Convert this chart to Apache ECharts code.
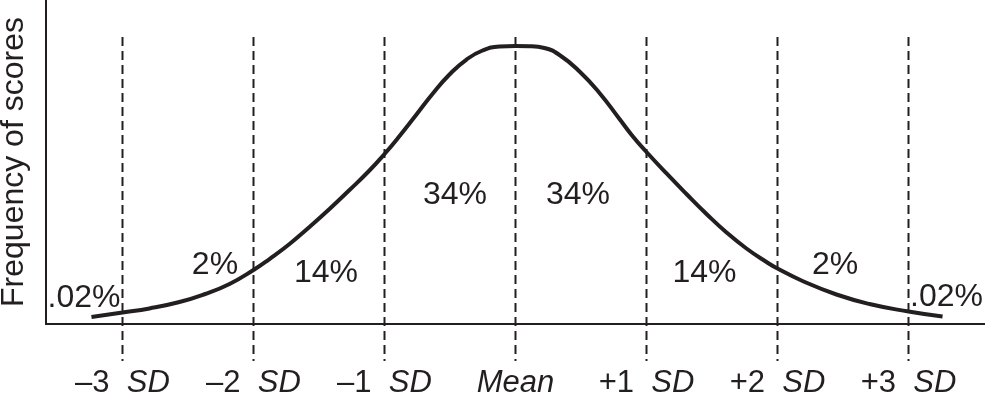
<!DOCTYPE html>
<html>
<head>
<meta charset="utf-8">
<script src="https://cdn.jsdelivr.net/npm/echarts@6/dist/echarts.min.js"></script>
<style>
html,body{margin:0;padding:0;background:#fff;}
#chart{width:985px;height:395px;}
</style>
</head>
<body>
<div id="chart"></div>
<script>
// Curve: x in SD units, y = relative frequency (peak = 100)
const curveX = [-3.237, -3.0, -2.794, -2.565, -2.374, -2.183, -2.0, -1.878, -1.725, -1.573, -1.420, -1.267, -1.115, -1.0, -0.885, -0.756, -0.634, -0.504, -0.374, -0.252, -0.122, 0, 0.107, 0.221, 0.336, 0.489, 0.641, 0.794, 0.893, 1.0, 1.153, 1.305, 1.458, 1.611, 1.763, 1.916, 2.0, 2.191, 2.450, 2.702, 3.0, 3.26];
const curveY = [2.52, 4.14, 5.6, 7.9, 10.7, 14.39, 19.42, 23.38, 28.78, 34.89, 41.37, 48.20, 55.22, 61.15, 67.63, 75.36, 82.73, 89.75, 95.14, 98.38, 99.82, 100, 99.93, 99.28, 96.76, 90.83, 83.09, 73.74, 67.63, 61.87, 54.14, 46.76, 39.57, 32.91, 27.16, 22.30, 19.96, 15.47, 10.61, 7.19, 4.50, 2.70];

// SD marks and tick labels
const sdValues = [-3, -2, -1, 0, 1, 2, 3];
const sdNumbers = ['\u20133', '\u20132', '\u20131', '', '+1', '+2', '+3'];
const sdWords = ['SD', 'SD', 'SD', 'Mean', 'SD', 'SD', 'SD'];
const dashTop = 103.2;
const dashBottom = -13.3;

// Percent annotations
const pctLabels = ['.02%', '2%', '14%', '34%', '34%', '14%', '2%', '.02%'];
const pctX = [-3.294, -2.294, -1.447, -0.462, 0.477, 1.443, 2.439, 3.29];
const pctY = [9.4, 21.3, 18.4, 46.3, 46.3, 18.4, 21.3, 9.8];

const INK = '#231f20';
const FONT = "'Liberation Sans', Arial, Helvetica, sans-serif";

const chart = echarts.init(document.getElementById('chart'), null, {renderer: 'canvas'});

const series = [];
sdValues.forEach(function (v) {
  series.push({
    type: 'line',
    data: [[v, dashTop], [v, dashBottom]],
    symbol: 'none',
    clip: false,
    silent: true,
    z: 1,
    lineStyle: {color: INK, width: 2, type: [9, 5]}
  });
});
series.push({
  type: 'line',
  data: curveX.map(function (x, i) { return [x, curveY[i]]; }),
  symbol: 'none',
  smooth: 0.5,
  z: 5,
  lineStyle: {color: INK, width: 4}
});
series.push({
  type: 'scatter',
  data: pctLabels.map(function (t, i) { return {name: t, value: [pctX[i], pctY[i]]}; }),
  symbolSize: 0,
  z: 6,
  itemStyle: {opacity: 1},
  label: {
    show: true,
    position: 'inside',
    formatter: function (p) { return p.name; },
    color: INK,
    opacity: 1,
    fontSize: 32,
    fontFamily: FONT
  }
});

chart.setOption({
  animation: false,
  backgroundColor: '#fff',
  grid: {left: 46, right: 0, top: 0, bottom: 71, containLabel: false, outerBoundsMode: 'none'},
  xAxis: {
    type: 'value',
    min: -3.584,
    max: 3.584,
    splitLine: {show: false},
    axisTick: {show: false},
    axisLine: {show: true, onZero: false, lineStyle: {color: INK, width: 2}},
    axisLabel: {
      show: true,
      customValues: sdValues,
      margin: 44,
      formatter: function (val) {
        const i = sdValues.indexOf(Math.round(val));
        if (i < 0) return '';
        if (sdNumbers[i] === '') return '{i|' + sdWords[i] + '}';
        return '{n|' + sdNumbers[i] + '  }{i|' + sdWords[i] + '}';
      },
      rich: {
        n: {fontSize: 31, fontFamily: FONT, color: INK, lineHeight: 31},
        i: {fontSize: 31, fontFamily: FONT, color: INK, fontStyle: 'italic', lineHeight: 31}
      }
    }
  },
  yAxis: {
    type: 'value',
    min: 0,
    max: 116.55,
    name: 'Frequency of scores',
    nameLocation: 'middle',
    nameRotate: 90,
    nameGap: 16,
    nameTextStyle: {fontSize: 32, fontFamily: FONT, color: INK},
    splitLine: {show: false},
    axisTick: {show: false},
    axisLabel: {show: false},
    axisLine: {show: true, onZero: false, lineStyle: {color: INK, width: 2}}
  },
  series: series
});
</script>
</body>
</html>
